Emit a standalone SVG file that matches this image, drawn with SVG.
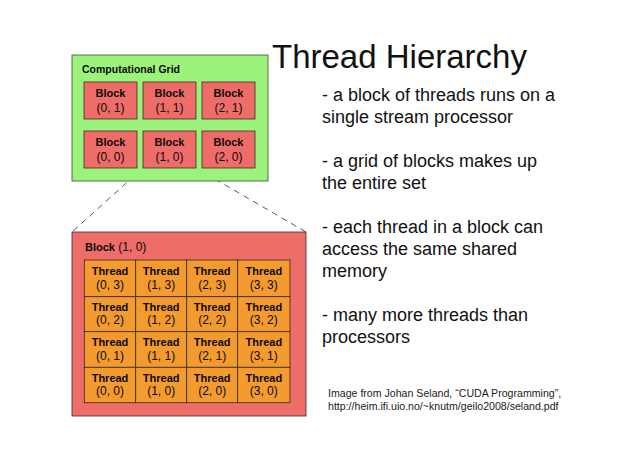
<svg xmlns="http://www.w3.org/2000/svg" width="638" height="451" viewBox="0 0 638 451">
<style>
.lab{font-family:"Liberation Sans",Arial,sans-serif;fill:#0a0a0a}
.b{font-weight:bold;font-size:11px}
.c{font-size:12px}
.blk{fill:#ee6d68;stroke:#3a2a2a;stroke-width:0.8}
.thr{fill:#f39b2f;stroke:#3a2a15;stroke-width:0.8}
.txt{font-family:"Liberation Sans",Arial,sans-serif;fill:#111;font-size:18px}
.dash{stroke:#555;stroke-width:1;stroke-dasharray:6,5;fill:none}
</style>
<rect width="638" height="451" fill="#fff"/>
<g id="connectors">
<line class="dash" x1="143" y1="168" x2="72" y2="232"/>
<line class="dash" x1="196" y1="168" x2="306" y2="232"/>
</g>
<g id="grid">
<rect x="72" y="55" width="196" height="126" fill="#9cf37c" stroke="#3a4a3a" stroke-width="0.8"/>
<text class="lab" x="82" y="73" style="font-weight:bold;font-size:10.5px">Computational Grid</text>
</g>
<g id="block01"><rect class="blk" x="84" y="82" width="53" height="37"/><text class="lab b" x="110.5" y="97" text-anchor="middle">Block</text><text class="lab c" x="110.5" y="112" text-anchor="middle">(0, 1)</text></g>
<g id="block11"><rect class="blk" x="143" y="82" width="53" height="37"/><text class="lab b" x="169.5" y="97" text-anchor="middle">Block</text><text class="lab c" x="169.5" y="112" text-anchor="middle">(1, 1)</text></g>
<g id="block21"><rect class="blk" x="202" y="82" width="53" height="37"/><text class="lab b" x="228.5" y="97" text-anchor="middle">Block</text><text class="lab c" x="228.5" y="112" text-anchor="middle">(2, 1)</text></g>
<g id="block00"><rect class="blk" x="84" y="131" width="53" height="37"/><text class="lab b" x="110.5" y="146" text-anchor="middle">Block</text><text class="lab c" x="110.5" y="161" text-anchor="middle">(0, 0)</text></g>
<g id="block10"><rect class="blk" x="143" y="131" width="53" height="37"/><text class="lab b" x="169.5" y="146" text-anchor="middle">Block</text><text class="lab c" x="169.5" y="161" text-anchor="middle">(1, 0)</text></g>
<g id="block20"><rect class="blk" x="202" y="131" width="53" height="37"/><text class="lab b" x="228.5" y="146" text-anchor="middle">Block</text><text class="lab c" x="228.5" y="161" text-anchor="middle">(2, 0)</text></g>
<g id="blockDetail">
<rect x="72" y="232" width="234" height="184" fill="#ee6d68" stroke="#3a2a2a" stroke-width="0.8"/>
<text class="lab" x="85" y="251"><tspan class="b">Block</tspan><tspan class="c"> (1, 0)</tspan></text>
</g>
<g id="t03"><rect class="thr" x="84.3" y="260" width="51.4" height="36.7"/><text class="lab b" x="110" y="275" text-anchor="middle">Thread</text><text class="lab c" x="110" y="288.5" text-anchor="middle">(0, 3)</text></g>
<g id="t13"><rect class="thr" x="135.7" y="260" width="51" height="36.7"/><text class="lab b" x="161.2" y="275" text-anchor="middle">Thread</text><text class="lab c" x="161.2" y="288.5" text-anchor="middle">(1, 3)</text></g>
<g id="t23"><rect class="thr" x="186.7" y="260" width="51" height="36.7"/><text class="lab b" x="212.2" y="275" text-anchor="middle">Thread</text><text class="lab c" x="212.2" y="288.5" text-anchor="middle">(2, 3)</text></g>
<g id="t33"><rect class="thr" x="237.7" y="260" width="52.3" height="36.7"/><text class="lab b" x="263.8" y="275" text-anchor="middle">Thread</text><text class="lab c" x="263.8" y="288.5" text-anchor="middle">(3, 3)</text></g>
<g id="t02"><rect class="thr" x="84.3" y="296.7" width="51.4" height="35"/><text class="lab b" x="110" y="310.5" text-anchor="middle">Thread</text><text class="lab c" x="110" y="324" text-anchor="middle">(0, 2)</text></g>
<g id="t12"><rect class="thr" x="135.7" y="296.7" width="51" height="35"/><text class="lab b" x="161.2" y="310.5" text-anchor="middle">Thread</text><text class="lab c" x="161.2" y="324" text-anchor="middle">(1, 2)</text></g>
<g id="t22"><rect class="thr" x="186.7" y="296.7" width="51" height="35"/><text class="lab b" x="212.2" y="310.5" text-anchor="middle">Thread</text><text class="lab c" x="212.2" y="324" text-anchor="middle">(2, 2)</text></g>
<g id="t32"><rect class="thr" x="237.7" y="296.7" width="52.3" height="35"/><text class="lab b" x="263.8" y="310.5" text-anchor="middle">Thread</text><text class="lab c" x="263.8" y="324" text-anchor="middle">(3, 2)</text></g>
<g id="t01"><rect class="thr" x="84.3" y="331.7" width="51.4" height="35.6"/><text class="lab b" x="110" y="346" text-anchor="middle">Thread</text><text class="lab c" x="110" y="359.5" text-anchor="middle">(0, 1)</text></g>
<g id="t11"><rect class="thr" x="135.7" y="331.7" width="51" height="35.6"/><text class="lab b" x="161.2" y="346" text-anchor="middle">Thread</text><text class="lab c" x="161.2" y="359.5" text-anchor="middle">(1, 1)</text></g>
<g id="t21"><rect class="thr" x="186.7" y="331.7" width="51" height="35.6"/><text class="lab b" x="212.2" y="346" text-anchor="middle">Thread</text><text class="lab c" x="212.2" y="359.5" text-anchor="middle">(2, 1)</text></g>
<g id="t31"><rect class="thr" x="237.7" y="331.7" width="52.3" height="35.6"/><text class="lab b" x="263.8" y="346" text-anchor="middle">Thread</text><text class="lab c" x="263.8" y="359.5" text-anchor="middle">(3, 1)</text></g>
<g id="t00"><rect class="thr" x="84.3" y="367.3" width="51.4" height="35.4"/><text class="lab b" x="110" y="381.5" text-anchor="middle">Thread</text><text class="lab c" x="110" y="395" text-anchor="middle">(0, 0)</text></g>
<g id="t10"><rect class="thr" x="135.7" y="367.3" width="51" height="35.4"/><text class="lab b" x="161.2" y="381.5" text-anchor="middle">Thread</text><text class="lab c" x="161.2" y="395" text-anchor="middle">(1, 0)</text></g>
<g id="t20"><rect class="thr" x="186.7" y="367.3" width="51" height="35.4"/><text class="lab b" x="212.2" y="381.5" text-anchor="middle">Thread</text><text class="lab c" x="212.2" y="395" text-anchor="middle">(2, 0)</text></g>
<g id="t30"><rect class="thr" x="237.7" y="367.3" width="52.3" height="35.4"/><text class="lab b" x="263.8" y="381.5" text-anchor="middle">Thread</text><text class="lab c" x="263.8" y="395" text-anchor="middle">(3, 0)</text></g>
<g id="title"><text x="272" y="68" style="font-family:'Liberation Sans',Arial,sans-serif;font-size:33px;fill:#111">Thread Hierarchy</text></g>
<g id="bullets" class="txt">
<text class="txt" x="322" y="101">- a block of threads runs on a</text>
<text class="txt" x="322" y="123">single stream processor</text>
<text class="txt" x="322" y="167">- a grid of blocks makes up</text>
<text class="txt" x="322" y="189">the entire set</text>
<text class="txt" x="322" y="233">- each thread in a block can</text>
<text class="txt" x="322" y="255">access the same shared</text>
<text class="txt" x="322" y="277">memory</text>
<text class="txt" x="322" y="321">- many more threads than</text>
<text class="txt" x="322" y="343">processors</text>
</g>
<g id="caption" style="font-family:'Liberation Sans',Arial,sans-serif;font-size:10.6px;fill:#222">
<text x="328" y="397">Image from Johan Seland, “CUDA Programming”,</text>
<text x="328" y="410">http://heim.ifi.uio.no/~knutm/geilo2008/seland.pdf</text>
</g>
</svg>
